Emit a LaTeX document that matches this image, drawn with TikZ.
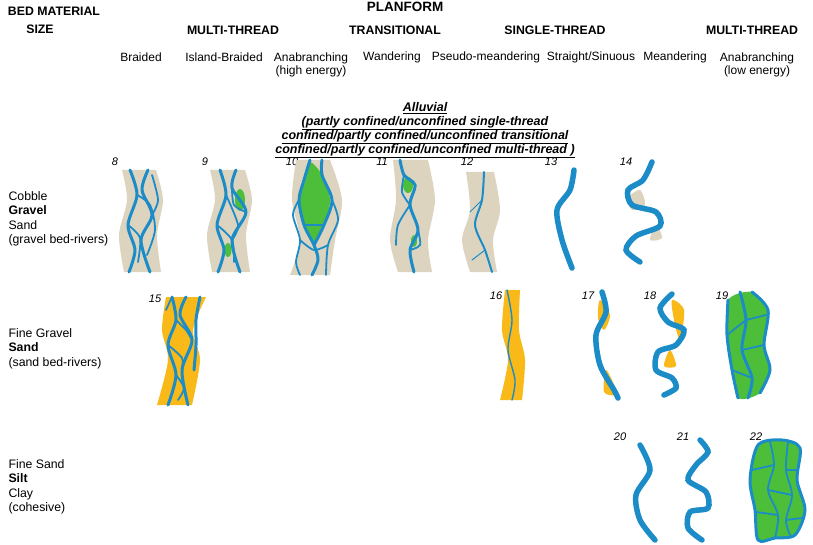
\documentclass[tikz,border=0pt]{standalone}
\usepackage{fontspec}
\setmainfont{Liberation Sans}
\newcommand\myul[1]{$\underline{\hbox{#1}}$}
\begin{document}
\begin{tikzpicture}[x=1pt,y=-1pt,font=\fontsize{12}{14}\selectfont]
\definecolor{sandc}{HTML}{DDD4C0}
\definecolor{riv}{HTML}{1C8CC8}
\definecolor{grn}{HTML}{4DBE3A}
\definecolor{yel}{HTML}{F8B919}
\tikzset{bl/.style={draw=riv,line width=3pt,line cap=round,line join=round},
 tl/.style={draw=riv,line width=1.8pt,line cap=round},
 big/.style={draw=riv,line width=5.5pt,line cap=round},
 hd/.style={font=\fontsize{12.3}{14}\selectfont\bfseries},
 num/.style={font=\fontsize{11}{12}\selectfont\itshape},
 lab/.style={align=center,font=\fontsize{12}{13.5}\selectfont},
 rl/.style={anchor=west,font=\fontsize{12.3}{14.5}\selectfont}}
\useasboundingbox (0,0) rectangle (813,545);
% headers
\node[hd] (bm) at (54,11) {BED MATERIAL};
\node[hd] (sz) at (40,29) {SIZE};
\node[hd,font=\fontsize{13.5}{15}\selectfont\bfseries] (pf) at (405,7) {PLANFORM};
\node[hd] (h1) at (233,30) {MULTI-THREAD};
\node[hd] (h2) at (395,30) {TRANSITIONAL};
\node[hd] (h3) at (555,30) {SINGLE-THREAD};
\node[hd] (h4) at (752,30) {MULTI-THREAD};
\node[lab] (c1) at (141,57) {Braided};
\node[lab] (c2) at (224,57) {Island-Braided};
\node[lab,anchor=north] (c3) at (311,49) {Anabranching\\(high energy)};
\node[lab] (c4) at (392,57) {Wandering};
\node[lab] (c5) at (486,57) {Pseudo-meandering};
\node[lab] (c6) at (591,57) {Straight/Sinuous};
\node[lab] (c7) at (675,57) {Meandering};
\node[lab,anchor=north] (c8) at (757,49) {Anabranching\\(low energy)};
\node[align=center,font=\fontsize{12.5}{14}\selectfont\bfseries\itshape,anchor=north] (al) at (425,99)
 {\myul{Alluvial}\\\myul{(partly confined/unconfined single-thread}\\\myul{confined/partly confined/unconfined transitional}\\\myul{confined/partly confined/unconfined multi-thread )}};
\node[rl,align=left,anchor=north west] (r1) at (5,188) {Cobble\\\textbf{Gravel}\\Sand\\(gravel bed-rivers)};
\node[rl,align=left,anchor=north west] (r2) at (5,325) {Fine Gravel\\\textbf{Sand}\\(sand bed-rivers)};
\node[rl,align=left,anchor=north west] (r3) at (5,456) {Fine Sand\\\textbf{Silt}\\Clay\\(cohesive)};
% numbers
\foreach \n/\x/\y in {8/115/162,9/205/162,10/292/162,11/382/162,12/467/162,13/551/162,14/626/162,15/155/299,16/496/296,17/588/296,18/650/296,19/722/296,20/620/437,21/683/437,22/756/437}
 \node[num] (n\n) at (\x,\y) {\n};
% 8 braided
\fill[sandc] plot[smooth] coordinates{(122,170)(127,200)(119,235)(124,272)} -- plot[smooth] coordinates{(161,272)(157,235)(163,200)(156,170)} -- cycle;
\draw[bl] plot[smooth] coordinates{(130,170)(137,195)(128,225)(135,250)(129,272)};
\draw[bl] plot[smooth] coordinates{(148,170)(142,190)(152,215)(141,240)(150,272)};
\draw[tl] plot[smooth] coordinates{(137,195)(150,205)(155,230)(147,255)};
\draw[tl] plot[smooth] coordinates{(128,225)(140,238)(138,262)};
\draw[tl] plot[smooth] coordinates{(152,175)(158,200)(152,215)};
% 9 island braided
\fill[sandc] plot[smooth] coordinates{(210,170)(215,200)(207,235)(212,272)} -- plot[smooth] coordinates{(250,272)(246,235)(252,200)(245,170)} -- cycle;
\fill[grn] (240,200) ellipse (5 and 11);
\fill[grn] (228,250) ellipse (3.5 and 7);
\draw[bl] plot[smooth] coordinates{(220,170)(226,195)(217,225)(224,250)(218,272)};
\draw[bl] plot[smooth] coordinates{(236,170)(232,188)(246,212)(232,240)(240,272)};
\draw[tl] plot[smooth] coordinates{(232,188)(234,205)(246,212)};
\draw[tl] plot[smooth] coordinates{(217,225)(232,240)(234,262)};
\draw[tl] plot[smooth] coordinates{(226,195)(238,225)(232,240)};
% 10 anabranching high energy
\fill[sandc] plot[smooth] coordinates{(296,160)(292,200)(300,240)(290,275)} -- plot[smooth] coordinates{(330,275)(335,240)(342,200)(330,160)} -- cycle;
\fill[grn] plot[smooth cycle] coordinates{(310,162)(322,175)(330,200)(324,225)(314,245)(304,225)(300,200)(306,178)};
\draw[bl] plot[smooth] coordinates{(310,160)(304,180)(299,200)(304,225)(314,245)(318,260)(312,275)};
\draw[bl] plot[smooth] coordinates{(322,160)(322,175)(332,200)(324,225)(314,245)};
\draw[tl] plot[smooth] coordinates{(299,200)(293,215)(300,240)(296,262)(300,275)};
\draw[tl] plot[smooth] coordinates{(332,200)(338,220)(328,245)(326,275)};
\draw[tl] (304,225)--(324,225);
\draw[tl] plot[smooth] coordinates{(300,240)(314,250)(328,245)};
% 11 wandering
\fill[sandc] plot[smooth] coordinates{(393,160)(396,200)(390,240)(398,272)} -- plot[smooth] coordinates{(432,272)(428,240)(435,200)(428,160)} -- cycle;
\fill[grn] (408,185) ellipse (5 and 8);
\fill[grn] (414,241) ellipse (3 and 6);
\draw[bl] plot[smooth] coordinates{(400,160)(404,175)(415,185)(410,205)(418,230)(410,250)(414,272)};
\draw[tl] plot[smooth] coordinates{(404,175)(402,192)(410,205)};
\draw[tl] plot[smooth] coordinates{(410,205)(398,225)(396,245)};
\draw[tl] plot[smooth] coordinates{(418,230)(420,245)(410,250)};
% 12 pseudo meandering
\fill[sandc] plot[smooth] coordinates{(466,172)(470,210)(462,240)(470,272)} -- plot[smooth] coordinates{(497,272)(493,240)(500,210)(494,172)} -- cycle;
\draw[tl,line width=2pt] plot[smooth] coordinates{(484,172)(482,200)(475,225)(485,250)(492,272)};
\draw[tl,line width=1pt] (482,200)--(470,212);
\draw[tl,line width=1pt] (485,250)--(472,260);
% 13 sinuous
\draw[big] plot[smooth] coordinates{(574,170)(570,190)(557,210)(562,240)(572,268)};
% 14 meandering gravel
\fill[sandc] plot[smooth cycle] coordinates{(640,190)(628,198)(632,210)(645,205)};
\fill[sandc] plot[smooth cycle] coordinates{(656,225)(662,238)(650,240)};
\draw[big] plot[smooth] coordinates{(652,162)(643,180)(628,190)(632,205)(656,212)(660,226)(636,236)(626,250)(640,262)};
% 15 braided sand
\fill[yel] plot[smooth] coordinates{(166,297)(162,330)(168,360)(157,405)} -- plot[smooth] coordinates{(192,405)(200,360)(193,330)(206,297)} -- cycle;
\draw[bl] plot[smooth] coordinates{(172,297)(176,320)(168,345)(176,375)(168,405)};
\draw[bl] plot[smooth] coordinates{(186,297)(180,315)(192,340)(182,370)(188,405)};
\draw[bl] plot[smooth] coordinates{(200,297)(196,320)(196,345)(194,370)};
\draw[tl] plot[smooth] coordinates{(176,320)(186,330)(192,340)};
\draw[tl] plot[smooth] coordinates{(168,345)(182,358)(182,370)};
\draw[tl] plot[smooth] coordinates{(176,375)(184,388)(178,400)};
\draw[tl] plot[smooth] coordinates{(166,310)(172,297)};
% 16
\fill[yel] plot[smooth] coordinates{(505,290)(502,330)(508,360)(500,400)} -- plot[smooth] coordinates{(522,400)(525,360)(519,330)(520,290)} -- cycle;
\draw[tl,line width=1.4pt] plot[smooth] coordinates{(507,290)(512,320)(508,350)(515,380)(512,400)};
% 17
\fill[yel] plot[smooth cycle] coordinates{(600,300)(610,315)(604,330)(598,318)};
\fill[yel] plot[smooth cycle] coordinates{(606,370)(614,385)(616,395)(604,392)};
\draw[big] plot[smooth] coordinates{(602,292)(606,312)(596,335)(600,365)(614,390)(618,398)};
% 18
\fill[yel] plot[smooth cycle] coordinates{(672,300)(684,310)(680,340)(674,320)};
\fill[yel] plot[smooth cycle] coordinates{(670,350)(676,366)(664,366)};
\draw[big] plot[smooth] coordinates{(672,294)(660,308)(668,322)(684,330)(676,345)(658,352)(656,370)(672,378)(676,388)(664,395)};
% 19
\fill[grn] plot[smooth cycle] coordinates{(728,300)(752,292)(768,310)(764,345)(770,370)(760,393)(738,398)(732,370)(727,335)};
\draw[bl] plot[smooth] coordinates{(728,300)(727,335)(732,370)(738,398)};
\draw[bl] plot[smooth] coordinates{(752,292)(768,310)(764,345)(770,370)(760,393)};
\draw[bl] plot[smooth] coordinates{(740,292)(746,320)(742,350)(752,378)(748,398)};
\draw[tl] (727,335)--(746,320);
\draw[tl] (742,350)--(764,345);
\draw[tl] (732,370)--(752,378);
\draw[tl] (746,320)--(766,315);
% 20
\draw[big] plot[smooth] coordinates{(640,445)(650,470)(636,495)(640,520)(655,540)};
% 21
\draw[big] plot[smooth] coordinates{(700,440)(708,452)(696,465)(688,480)(706,492)(708,508)(690,512)(688,528)(702,540)};
% 22
\fill[grn] plot[smooth cycle] coordinates{(758,445)(782,440)(800,448)(797,480)(805,510)(795,535)(775,538)(758,540)(755,510)(750,480)};
\draw[bl] plot[smooth cycle] coordinates{(758,445)(782,440)(800,448)(797,480)(805,510)(795,535)(775,538)(758,540)(755,510)(750,480)};
\draw[tl] plot[smooth] coordinates{(770,442)(774,465)(768,490)(778,515)(775,538)};
\draw[tl] plot[smooth] coordinates{(788,442)(786,470)(792,495)(786,520)(790,535)};
\draw[tl] (752,470)--(774,465);
\draw[tl] (768,490)--(792,495);
\draw[tl] (756,512)--(778,515);
\draw[tl] (786,470)--(798,470);
\draw[tl] (786,520)--(802,518);
\end{tikzpicture}
\end{document}
